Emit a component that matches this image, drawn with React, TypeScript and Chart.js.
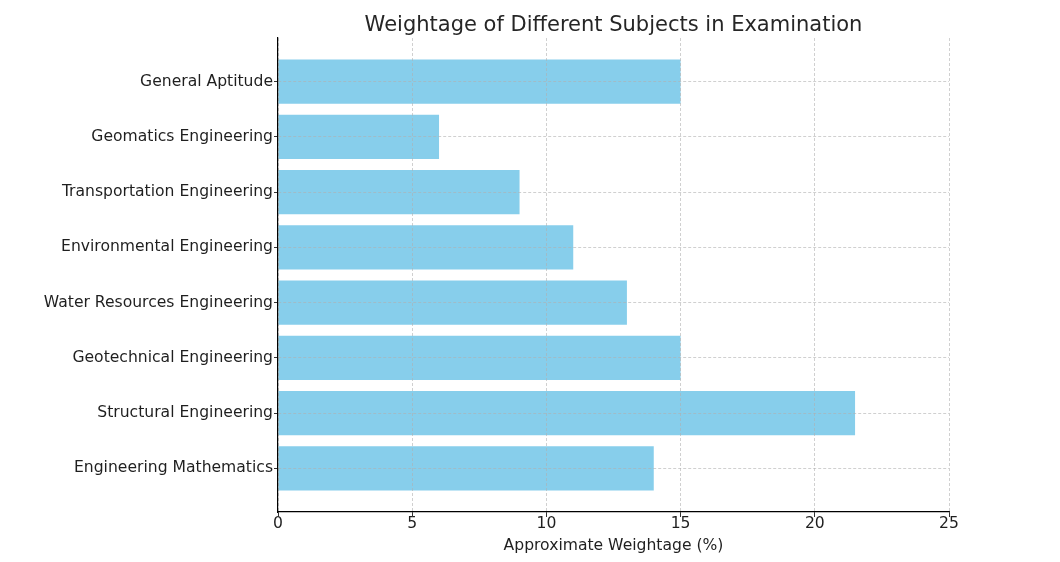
import React, { useEffect, useRef } from "react";
import { Chart, registerables } from "chart.js";

Chart.register(...registerables);

// Bottom-to-top order (as in the reference)
const categories: string[] = [
  "Engineering Mathematics",
  "Structural Engineering",
  "Geotechnical Engineering",
  "Water Resources Engineering",
  "Environmental Engineering",
  "Transportation Engineering",
  "Geomatics Engineering",
  "General Aptitude",
];
const weightage: number[] = [14, 21.5, 15, 13, 11, 9, 6, 15];
const xTicks: number[] = [0, 5, 10, 15, 20, 25];

const TITLE = "Weightage of Different Subjects in Examination";
const X_TITLE = "Approximate Weightage (%)";
const FONT = "'DejaVu Sans', sans-serif";
const TEXT = "#1f1f1f";

export default function App() {
  const ref = useRef<HTMLCanvasElement | null>(null);

  useEffect(() => {
    if (!ref.current) return;
    document.body.style.margin = "0";

    const titlePlugin = {
      id: "mplTitle",
      afterDraw(chart: any) {
        const { ctx, chartArea } = chart;
        ctx.save();
        ctx.font = `21px ${FONT}`;
        ctx.fillStyle = "#262626";
        ctx.textAlign = "center";
        ctx.textBaseline = "alphabetic";
        ctx.fillText(TITLE, (chartArea.left + chartArea.right) / 2, 31);
        ctx.restore();
      },
    };

    const gridOpts = {
      color: "rgba(176,176,176,0.75)",
      lineWidth: 0.8,
      tickColor: "#333",
      tickLength: 4,
      tickWidth: 1,
      offset: false,
      z: 1,
    };

    const chart = new Chart(ref.current, {
      type: "bar",
      data: {
        datasets: [
          {
            data: weightage.map((v, i) => ({ x: v, y: i })),
            backgroundColor: "#87CEEB",
            borderWidth: 0,
            barPercentage: 0.8,
            categoryPercentage: 1,
          },
        ],
      },
      options: {
        indexAxis: "y",
        responsive: false,
        animation: false,
        layout: { padding: { left: 0, right: 111, top: 38, bottom: 0 } },
        plugins: {
          legend: { display: false },
          title: { display: false },
          tooltip: { enabled: false },
        },
        scales: {
          x: {
            type: "linear",
            min: 0,
            max: 25,
            offset: false,
            afterBuildTicks: (scale: any) => {
              scale.ticks = xTicks.map((v) => ({ value: v }));
            },
            afterFit: (scale: any) => {
              scale.height = 562 - 512;
            },
            grid: { ...gridOpts, tickLength: 5 },
            border: { color: "#000", width: 1.2, dash: [3, 2], z: 2 },
            ticks: {
              color: TEXT,
              font: { family: FONT, size: 15.6, lineHeight: 1 },
              padding: -1,
              maxRotation: 0,
              callback: (v: any) => String(v),
            },
            title: {
              display: true,
              text: X_TITLE,
              color: TEXT,
              font: { family: FONT, size: 15.6, lineHeight: 1.2 },
              padding: { top: 0, bottom: 7 },
            },
          },
          y: {
            type: "linear",
            min: -0.79,
            max: 7.79,
            offset: false,
            afterBuildTicks: (scale: any) => {
              scale.ticks = categories.map((_, i) => ({ value: i }));
            },
            afterFit: (scale: any) => {
              scale.width = 278;
            },
            grid: gridOpts,
            border: { color: "#000", width: 1.2, dash: [3, 2], z: 2 },
            ticks: {
              color: TEXT,
              font: { family: FONT, size: 15.6 },
              padding: 1,
              callback: (v: any) => categories[Math.round(Number(v))] ?? "",
            },
          },
        },
      },
      plugins: [titlePlugin],
    } as any);

    return () => chart.destroy();
  }, []);

  return (
    <div style={{ position: "absolute", left: 0, top: 0, width: 1060, height: 562, background: "#fff" }}>
      <canvas ref={ref} width={1060} height={562} />
    </div>
  );
}
